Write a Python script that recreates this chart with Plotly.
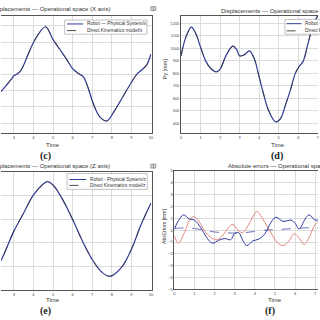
import plotly.graph_objects as go

# ---------------- data ----------------
# (c) X-axis displacement (arbitrary mm scale, y labels cropped in the reference)
t_c = [2.0, 2.34, 2.6, 2.85, 3.0, 3.2, 3.36, 3.53, 3.7, 4.0, 4.3, 4.62, 5.0, 5.38, 5.72,
       6.0, 6.3, 6.55, 6.8, 7.05, 7.4, 7.75, 8.1, 8.43, 8.93, 9.3, 9.53, 9.78, 10.0]
px_c = [-154, -105, -69, -32, -8, 6, 26, 66, 117, 198, 258, 295, 216, 150, 89,
        36, 6, -14, -85, -178, -263, -287, -232, -166, -63, 4, 28, 58, 125]

# (d) Y-axis displacement Py [mm]
t_d = [0, 0.25, 0.53, 0.75, 1.0, 1.25, 1.5, 1.8, 2.0, 2.3, 2.65, 2.85, 3.0, 3.25, 3.5,
       3.75, 4.0, 4.25, 4.5, 4.85, 5.1, 5.35, 5.6, 5.85, 6.05, 6.25, 6.5, 6.75, 7.0, 7.25]
py_d = [940, 1090, 1170, 1120, 1010, 904, 843, 812, 835, 940, 1018, 990, 940, 950, 980,
        917, 770, 620, 497, 412, 440, 550, 668, 800, 857, 896, 1040, 1180, 1260, 1300]

# (e) Z-axis displacement
t_e = [2.0, 2.34, 3.0, 3.5, 4.0, 4.5, 4.7, 5.0, 5.5, 6.0, 6.5, 7.0, 7.5, 7.9, 8.5, 9.0, 9.5, 10.0]
pz_e = [1085, 1125, 1250, 1327, 1404, 1450, 1460, 1446, 1383, 1300, 1208, 1130, 1075, 1058,
        1096, 1172, 1278, 1369]

# (f) absolute errors [mm]
t_fx = [0, 0.2, 0.45, 0.75, 1.0, 1.3, 1.6, 1.9, 2.2, 2.5, 2.8, 3.0, 3.2, 3.4, 3.6, 3.9,
        4.2, 4.5, 4.8, 5.05, 5.4, 5.8, 6.0, 6.2, 6.5, 6.7, 7.0, 7.3]
err_x = [0.1, 0.8, 1.3, 0.95, 0.85, 0.25, -0.6, -1.1, -0.85, -0.7, -0.8, -0.25, -0.2, -0.85,
         -1.3, -0.9, -0.75, -0.3, 0.65, 1.1, 0.75, 0.85, 0.6, 0.1, 0.95, 1.3, 0.85, 0.95]
t_fy = [0, 0.2, 0.5, 0.75, 0.95, 1.2, 1.5, 1.8, 2.1, 2.4, 2.7, 2.9, 3.2, 3.4, 3.7, 4.0,
        4.1, 4.5, 4.8, 5.1, 5.4, 5.7, 5.95, 6.2, 6.45, 6.7, 7.0, 7.3]
err_y = [-0.45, -1.1, -0.2, 0.85, 1.15, 0.8, -0.05, -0.6, -0.8, -0.45, 0.25, 0.5, -0.05, -0.2,
         0.5, 1.45, 1.6, 0.65, -0.2, -1.0, -1.3, -0.9, -0.3, -0.65, -1.2, -0.6, 0.5, 0.9]
t_fz = [0, 0.5, 1.0, 1.5, 2.0, 2.5, 3.0, 3.5, 4.0, 4.5, 5.0, 5.5, 6.0, 6.5, 7.0, 7.3]
err_z = [0.15, 0.2, 0.15, 0.0, -0.15, -0.2, -0.25, -0.2, -0.1, 0.0, 0.05, 0.1, 0.15, 0.2, 0.2, 0.2]

titles = ["Displacements — Operational space (X axis)",
          "Displacements — Operational space (Y axis)",
          "Displacements — Operational space (Z axis)",
          "Absolute errors — Operational space"]
legend_c = ["Robot — Physical System/x", "Direct Kinematics model/x"]
legend_d = ["Robot — Physical System/y", "Direct Kinematics model/y"]
legend_e = ["Robot - Physical System/z", "Direct Kinematics model/z"]
panel_labels = ["(c)", "(d)", "(e)", "(f)"]

# ---------------- figure ----------------
W = H = 320
def X(p): return p / W
def Y(p): return 1 - p / H

BLUE = '#2f3a96'
DASHC = '#3a3a3a'
fig = go.Figure()

def add_pair(t, v, xa, ya):
    fig.add_trace(go.Scatter(x=t, y=v, mode='lines', xaxis=xa, yaxis=ya, showlegend=False,
                             line=dict(color=BLUE, width=1.2, shape='spline', smoothing=1.0)))
    fig.add_trace(go.Scatter(x=t, y=v, mode='lines', xaxis=xa, yaxis=ya, showlegend=False,
                             line=dict(color=DASHC, width=0.7, dash='dash', shape='spline', smoothing=1.0)))

add_pair(t_c, px_c, 'x', 'y')
add_pair(t_d, py_d, 'x2', 'y2')
add_pair(t_e, pz_e, 'x3', 'y3')
fig.add_trace(go.Scatter(x=t_fz, y=err_z, mode='lines', xaxis='x4', yaxis='y4', showlegend=False,
                         line=dict(color='#6a72c0', width=1.0, dash='dash', shape='spline')))
fig.add_trace(go.Scatter(x=t_fy, y=err_y, mode='lines', xaxis='x4', yaxis='y4', showlegend=False,
                         line=dict(color='#e07a72', width=0.9, shape='spline', smoothing=1.0)))
fig.add_trace(go.Scatter(x=t_fx, y=err_x, mode='lines', xaxis='x4', yaxis='y4', showlegend=False,
                         line=dict(color='#2f3a9c', width=1.0, shape='spline', smoothing=1.0)))

TF = dict(size=4, color='#444', family='Liberation Sans')
common = dict(showgrid=True, gridcolor='#dcdcdc', gridwidth=0.6, zeroline=False,
              showline=True, linecolor='#555', linewidth=0.7, ticks='', tickfont=TF,
              ticklabeloverflow='allow')

fig.update_layout(
    width=W, height=H, margin=dict(l=0, r=0, t=0, b=0),
    paper_bgcolor='white', plot_bgcolor='white', showlegend=False,
    xaxis=dict(common, domain=[0, X(152)], range=[2.342, 10.035], dtick=1, tick0=0, mirror=True, anchor='y'),
    yaxis=dict(common, domain=[Y(132), Y(13.3)], range=[-361, 361], dtick=100, tick0=0,
               side='right', showticklabels=False, anchor='x'),
    xaxis2=dict(common, domain=[X(181.7), 1], range=[0, 7.01], dtick=1, tick0=0, mirror=True, anchor='y2'),
    yaxis2=dict(common, domain=[Y(132), Y(13.3)], range=[324, 1258], dtick=100, tick0=0,
                side='left', anchor='x2'),
    xaxis3=dict(common, domain=[0, X(152)], range=[2.342, 10.035], dtick=1, tick0=0, mirror=True, anchor='y3'),
    yaxis3=dict(common, domain=[Y(291.5), Y(172)], range=[1000, 1500], dtick=100, tick0=0,
                side='right', showticklabels=False, anchor='x3'),
    xaxis4=dict(common, domain=[X(175), 1], range=[0, 7.14], dtick=1, tick0=0, mirror=True, anchor='y4'),
    yaxis4=dict(common, domain=[Y(291), Y(170.7)], range=[-5, 5], dtick=1, tick0=0,
                side='left', anchor='x4'),
)

ann = []
shapes = []
def text(x, y, s, size, xanchor='center', color='#333', family='Liberation Sans', angle=0, bold=False):
    ann.append(dict(x=X(x), y=Y(y), xref='paper', yref='paper', text=(f'<b>{s}</b>' if bold else s),
                    showarrow=False, xanchor=xanchor, yanchor='middle', textangle=angle,
                    font=dict(size=size, color=color, family=family)))

# titles
text(111.7, 6.5, titles[0], 6, xanchor='right')
text(220, 8.3, titles[1], 6, xanchor='left')
text(111.7, 166, titles[2], 6, xanchor='right')
text(226.7, 166, titles[3], 6, xanchor='left')
# Time labels
for (x, y) in [(52, 144), (280, 144), (52, 301.5), (276.7, 301.5)]:
    text(x, y, 'Time', 6)
# panel labels
for lab, (x, y) in zip(panel_labels, [(45, 155), (279, 155), (45, 313), (272, 313)]):
    text(x, y, lab, 10, family='Liberation Serif', color='#222', bold=True)
# y titles
text(166, 67, 'Py [mm]', 5.5, angle=-90)
text(165, 227, 'AbsErrors [mm]', 5, angle=-90)

# legends
def legend(x0, x1, y0, y1, lx0, lx1, tx, ys, labels):
    shapes.append(dict(type='rect', xref='paper', yref='paper', x0=X(x0), x1=X(x1), y0=Y(y1), y1=Y(y0),
                       fillcolor='white', line=dict(color='#999', width=0.6), layer='above'))
    shapes.append(dict(type='line', xref='paper', yref='paper', x0=X(lx0), x1=X(lx1), y0=Y(ys[0]), y1=Y(ys[0]),
                       line=dict(color=BLUE, width=1.0), layer='above'))
    shapes.append(dict(type='line', xref='paper', yref='paper', x0=X(lx0), x1=X(lx1), y0=Y(ys[1]), y1=Y(ys[1]),
                       line=dict(color=DASHC, width=0.9, dash='dash'), layer='above'))
    text(tx, ys[0], labels[0], 4.8, xanchor='left')
    text(tx, ys[1], labels[1], 4.8, xanchor='left')

legend(64.3, 147.3, 17.3, 31.7, 66.7, 83, 85.2, [21.3, 28], legend_c)
legend(286.7, 340, 16.7, 31.7, 288.3, 303.3, 305, [21, 28.3], legend_d)
legend(66.7, 147.7, 173.3, 189.3, 69, 86, 87.8, [179.3, 185.3], legend_e)

# small toolbar icons
for yc in [5.7, 165.7]:
    shapes.append(dict(type='rect', xref='paper', yref='paper', x0=X(151.3), x1=X(156.3),
                       y0=Y(yc + 2), y1=Y(yc - 2), fillcolor='#ddd', line=dict(color='#666', width=0.6)))
    shapes.append(dict(type='line', xref='paper', yref='paper', x0=X(153.8), x1=X(153.8),
                       y0=Y(yc + 2), y1=Y(yc - 2), line=dict(color='#666', width=0.6)))

fig.update_layout(annotations=ann, shapes=shapes)
fig.write_html("out.html")
